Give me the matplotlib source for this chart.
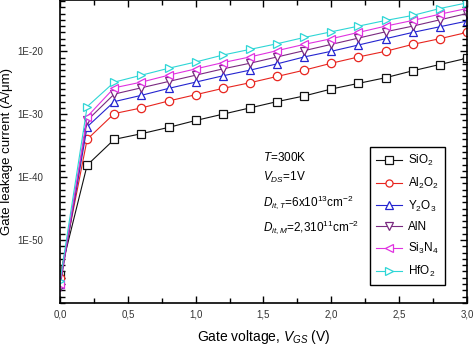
import numpy as np
import matplotlib
matplotlib.use('Agg')
import matplotlib.pyplot as plt
from matplotlib.ticker import FixedLocator, NullFormatter

plt.rcParams['font.family'] = ['Liberation Sans', 'DejaVu Sans']
plt.rcParams['mathtext.fontset'] = 'custom'
plt.rcParams['mathtext.rm'] = 'Liberation Sans'
plt.rcParams['mathtext.it'] = 'Liberation Sans:italic'

# gate voltage (V)
vgs = [0.0, 0.2, 0.4, 0.6, 0.8, 1.0, 1.2, 1.4, 1.6, 1.8, 2.0, 2.2, 2.4, 2.6, 2.8, 3.0]

# log10 of leakage current (A/um) for each dielectric
sio2_log = [-55.5, -38.1, -34.0, -33.1, -32.1, -31.0, -30.0, -29.0, -28.0, -27.1, -26.0, -25.1, -24.2, -23.1, -22.1, -21.1]
al2o3_log = [-56.0, -34.0, -29.9, -29.0, -27.9, -26.9, -25.9, -25.0, -24.0, -23.0, -21.9, -20.9, -20.0, -18.9, -18.0, -17.0]
y2o3_log = [-57.0, -32.0, -28.0, -27.0, -25.9, -24.9, -23.9, -23.0, -22.0, -20.9, -20.0, -19.0, -18.0, -17.0, -16.1, -15.2]
aln_log = [-57.5, -31.0, -26.8, -25.8, -24.8, -23.8, -22.8, -21.9, -20.9, -19.9, -18.9, -17.9, -16.9, -16.0, -15.0, -14.0]
si3n4_log = [-57.0, -30.4, -25.8, -24.9, -23.8, -22.8, -21.8, -20.9, -19.9, -18.9, -18.0, -17.0, -16.0, -15.1, -14.1, -13.2]
hfo2_log = [-56.5, -28.8, -24.9, -23.8, -22.7, -21.7, -20.6, -19.7, -18.8, -17.8, -16.9, -16.0, -15.1, -14.3, -13.2, -12.3]

labels = ['SiO$_2$', 'Al$_2$O$_2$', 'Y$_2$O$_3$', 'AlN', 'Si$_3$N$_4$', 'HfO$_2$']
xtick_vals = [0.0, 0.5, 1.0, 1.5, 2.0, 2.5, 3.0]
xtick_labels = ['0,0', '0,5', '1,0', '1,5', '2,0', '2,5', '3,0']
ytick_vals = [1e-50, 1e-40, 1e-30, 1e-20]
ytick_labels = ['1E-50', '1E-40', '1E-30', '1E-20']

series = [sio2_log, al2o3_log, y2o3_log, aln_log, si3n4_log, hfo2_log]
colors = ['#111111', '#e8251f', '#2424d0', '#7a2a80', '#e032e0', '#2ed6d6']
markers = ['s', 'o', '^', 'v', '<', '>']

fig = plt.figure(figsize=(4.74, 3.47), dpi=100)
ax = fig.add_axes([0.1266, 0.127, 0.8584, 0.872])

for ys, c, m, lab in zip(series, colors, markers, labels):
    ax.plot(vgs, np.power(10.0, ys), color=c, marker=m, markersize=6,
            markerfacecolor='white', markeredgecolor=c, markeredgewidth=0.9,
            linewidth=0.8, label=lab)

ax.set_yscale('log')
ax.set_xlim(0, 3.0)
ax.set_ylim(1e-60, 10 ** -11.9)

ax.set_xticks(xtick_vals)
ax.set_xticklabels(xtick_labels)
ax.xaxis.set_minor_locator(FixedLocator(np.arange(0.25, 3.0, 0.5)))
ax.yaxis.set_major_locator(FixedLocator(ytick_vals))
ax.set_yticklabels(ytick_labels)
ax.yaxis.set_minor_locator(FixedLocator(10.0 ** np.arange(-60, -11)))
ax.yaxis.set_minor_formatter(NullFormatter())

ax.tick_params(which='both', direction='in', top=True, right=True,
               width=1.0, labelsize=7, labelcolor='#333333')
ax.tick_params(axis='x', pad=5)
ax.tick_params(axis='y', pad=12)
ax.tick_params(which='major', length=5)
ax.tick_params(which='minor', length=3.5)
for sp in ax.spines.values():
    sp.set_linewidth(1.2)

ax.set_xlabel('Gate voltage, $V_{GS}$ (V)', fontsize=10, labelpad=6)
ax.set_ylabel('Gate leakage current (A/μm)', fontsize=9.5, labelpad=3)

ann = ['$T$=300K', '$V_{DS}$=1V',
       '$D_{it,T}$=6x10$^{13}$cm$^{-2}$', '$D_{it,M}$=2,310$^{11}$cm$^{-2}$']
ann_y = [0.479, 0.416, 0.333, 0.251]
for t, yy in zip(ann, ann_y):
    ax.text(0.499, yy, t, transform=ax.transAxes, fontsize=8.5, va='center', ha='left')

leg = ax.legend(loc='upper left', bbox_to_anchor=(0.762, 0.515), borderaxespad=0,
                fontsize=8.5, handlelength=2.2, labelspacing=0.65, handletextpad=0.5,
                borderpad=0.5, fancybox=False, framealpha=1, edgecolor='black',
                markerscale=0.85)
leg.get_frame().set_linewidth(1.0)

fig.savefig('out.png', dpi=100)
